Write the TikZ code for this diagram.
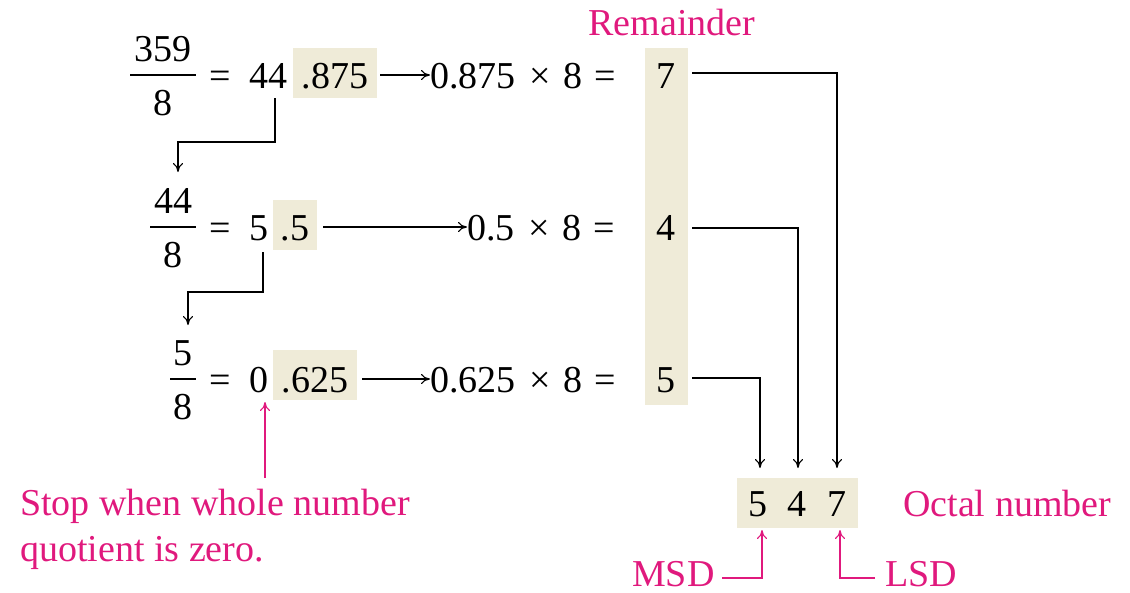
\documentclass[tikz,border=0pt]{standalone}
\usepackage{fontspec}
\setmainfont{Liberation Serif}
\usetikzlibrary{arrows.meta}
\definecolor{bgbeige}{HTML}{EFEBD8}
\definecolor{mag}{HTML}{E0197D}
\newcommand{\tms}{\hspace{0.35em}×\hspace{0.35em}}
\newcommand{\eqs}{\hspace{0.3em}=}
\tikzset{
 t/.style={inner sep=0pt,font=\fontsize{38}{42}\selectfont,text height=26pt,text depth=0pt},
 m/.style={t,text=mag},
 arr/.style={-{To[length=9pt,width=10pt]},line width=1.1pt},
 ln/.style={line width=1.1pt},
}
\begin{document}
\begin{tikzpicture}[x=1pt,y=-1pt]
\useasboundingbox (0,0) rectangle (1130,592);
% backgrounds
\fill[bgbeige] (293,48) rectangle (377,98);
\fill[bgbeige] (273,200) rectangle (317,250);
\fill[bgbeige] (273,350) rectangle (357,400);
\fill[bgbeige] (645,48) rectangle (688,405);
\fill[bgbeige] (737,478) rectangle (858,528);
\node[m] (rem) at (672,22) {Remainder};
% row 1
\node[t] (n1) at (163,48) {359};
\node[t] (d1) at (163,102) {8};
\draw[ln] (130,75) -- (196,75);
\node[t] (e1) at (220,75) {=};
\node[t] (q1) at (268,75) {44};
\node[t] (f1) at (335,75) {.875};
\node[t,anchor=west] (c1) at (430,75) {0.875\tms 8\eqs};
\node[t] (r1) at (666,75) {7};
% row 2
\node[t] (n2) at (173,200) {44};
\node[t] (d2) at (173,254) {8};
\draw[ln] (150,227) -- (196,227);
\node[t] (e2) at (220,227) {=};
\node[t] (q2) at (259,227) {5};
\node[t] (f2) at (295,227) {.5};
\node[t,anchor=west] (c2) at (467,227) {0.5\tms 8\eqs};
\node[t] (r2) at (666,227) {4};
% row 3
\node[t] (n3) at (183,352) {5};
\node[t] (d3) at (183,406) {8};
\draw[ln] (170,379) -- (196,379);
\node[t] (e3) at (220,379) {=};
\node[t] (q3) at (259,379) {0};
\node[t] (f3) at (315,379) {.625};
\node[t,anchor=west] (c3) at (430,379) {0.625\tms 8\eqs};
\node[t] (r3) at (666,379) {5};
% result
\node[t] (o5) at (758,503) {5};
\node[t] (o4) at (797,503) {4};
\node[t] (o7) at (837,503) {7};
\node[m,anchor=west] (oct) at (903,503) {Octal number};
\node[m,anchor=west] (msd) at (632,573) {MSD};
\node[m,anchor=west] (lsd) at (885,573) {LSD};
\node[m,anchor=west] (s1) at (20,502) {Stop when whole number};
\node[m,anchor=west] (s2) at (20,548) {quotient is zero.};
% arrows
\draw[arr] (380,75) -- (c1.west);
\draw[arr] (323,227) -- (c2.west);
\draw[arr] (362,379) -- (c3.west);
\draw[arr] (275,98) -- (275,142) -- (178,142) -- (178,172);
\draw[arr] (263,252) -- (263,292) -- (188,292) -- (188,325);
\draw[arr] (692,73) -- (837,73) -- (837,468);
\draw[arr] (692,228) -- (798,228) -- (798,468);
\draw[arr] (692,378) -- (760,378) -- (760,468);
\draw[arr,draw=mag,mag] (265,478) -- (265,402);
\draw[arr,draw=mag,mag] (722,578) -- (762,578) -- (762,530);
\draw[arr,draw=mag,mag] (875,578) -- (840,578) -- (840,530);
\end{tikzpicture}
\end{document}
